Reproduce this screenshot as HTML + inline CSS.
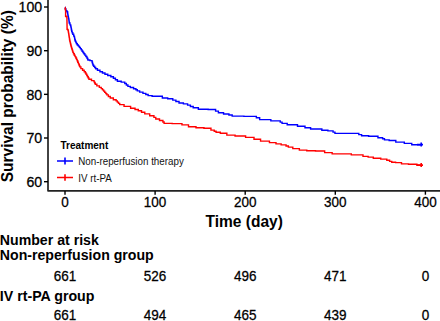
<!DOCTYPE html>
<html><head><meta charset="utf-8"><style>
html,body{margin:0;padding:0;background:#fff;width:440px;height:321px;overflow:hidden}
svg{display:block;font-family:"Liberation Sans",sans-serif}
.t{font-size:13.5px;fill:#000;stroke:#000;stroke-width:0.25px}
.ax{font-size:15.7px;font-weight:bold;fill:#000}
.lt{font-size:10px;font-weight:bold;fill:#000}
.ll{font-size:9.8px;fill:#111}
.rt{font-size:13.9px;font-weight:bold;fill:#000}
</style></head><body>
<svg width="440" height="321" viewBox="0 0 440 321"><path d="M48,0 V190.8 H440" fill="none" stroke="#222" stroke-width="1.7" stroke-linejoin="round"/><line x1="44" y1="7.0" x2="48" y2="7.0" stroke="#000" stroke-width="1.4"/><text transform="translate(42.2,12.2) scale(1.05,1.15)" text-anchor="end" class="t">100</text><line x1="44" y1="50.7" x2="48" y2="50.7" stroke="#000" stroke-width="1.4"/><text transform="translate(42.2,55.9) scale(1.05,1.15)" text-anchor="end" class="t">90</text><line x1="44" y1="94.35" x2="48" y2="94.35" stroke="#000" stroke-width="1.4"/><text transform="translate(42.2,99.5) scale(1.05,1.15)" text-anchor="end" class="t">80</text><line x1="44" y1="138.0" x2="48" y2="138.0" stroke="#000" stroke-width="1.4"/><text transform="translate(42.2,143.2) scale(1.05,1.15)" text-anchor="end" class="t">70</text><line x1="44" y1="181.7" x2="48" y2="181.7" stroke="#000" stroke-width="1.4"/><text transform="translate(42.2,186.9) scale(1.05,1.15)" text-anchor="end" class="t">60</text><line x1="65.0" y1="191" x2="65.0" y2="194.7" stroke="#000" stroke-width="1.4"/><text transform="translate(65.0,206.5) scale(1,1.15)" text-anchor="middle" class="t">0</text><line x1="155.1" y1="191" x2="155.1" y2="194.7" stroke="#000" stroke-width="1.4"/><text transform="translate(155.1,206.5) scale(1,1.15)" text-anchor="middle" class="t">100</text><line x1="245.2" y1="191" x2="245.2" y2="194.7" stroke="#000" stroke-width="1.4"/><text transform="translate(245.2,206.5) scale(1,1.15)" text-anchor="middle" class="t">200</text><line x1="335.3" y1="191" x2="335.3" y2="194.7" stroke="#000" stroke-width="1.4"/><text transform="translate(335.3,206.5) scale(1,1.15)" text-anchor="middle" class="t">300</text><line x1="425.4" y1="191" x2="425.4" y2="194.7" stroke="#000" stroke-width="1.4"/><text transform="translate(425.4,206.5) scale(1,1.15)" text-anchor="middle" class="t">400</text><text transform="translate(244.2,227.2) scale(0.99,1)" text-anchor="middle" class="ax">Time (day)</text><text transform="translate(13.4,96.2) rotate(-90) scale(0.987,1.07)" x="0" y="0" text-anchor="middle" class="ax">Survival probability (%)</text><path d="M65.0,7.5H65.30V9.05H65.90V10.60H66.20H66.85V11.80H67.50H67.60V13.27H67.80V14.73H68.00V16.20H68.10H68.40V18.10H68.70H68.78V19.33H68.92V20.55H69.08V21.77H69.22V23.00H69.30H69.95V24.90H70.60H70.72V26.16H70.96V27.42H71.20V28.68H71.44V29.94H71.68V31.20H71.80H72.12V32.75H72.77V34.30H73.10H73.70V36.10H74.30H74.42V37.40H74.65V38.70H74.88V40.00H75.00H75.30V41.23H75.90V42.47H76.50V43.70H76.80H77.32V44.93H78.35V46.17H79.38V47.40H79.90H80.34V48.66H81.22V49.92H82.10V51.18H82.98V52.44H83.86V53.70H84.30H84.82V55.13H85.85V56.57H86.88V58.00H87.40H87.58V59.00H87.92V60.00H88.10H89.95V60.60H91.80H92.02V62.07H92.45V63.53H92.88V65.00H93.10H93.62V66.23H94.65V67.47H95.68V68.70H96.20H97.45V70.25H99.95V71.80H101.20H102.45V73.05H104.95V74.30H106.20H107.75V75.55H110.85V76.80H112.40H113.40V78.27H115.40V79.73H117.40V81.20H118.40H121.20V82.10H124.00H124.78V83.53H126.35V84.97H127.92V86.40H128.70H130.32V87.55H133.57V88.70H135.20H135.90V89.80H137.30V90.90H138.00H139.65V92.15H142.95V93.40H144.60H145.78V94.50H148.12V95.60H149.30H152.10V96.20H154.90H157.70V96.20H160.50H162.35V98.00H164.20H167.70V98.70H171.20H172.77V100.13H175.90V101.57H179.03V103.00H180.60H183.40V103.90H186.20H187.60V105.17H190.40V106.43H193.20V107.70H194.60H198.35V109.30H202.10H208.15V109.50H214.20H215.60V111.10H218.40V112.70H219.80H223.55V114.00H227.30H228.93V115.05H232.18V116.10H233.80H243.90V116.40H254.00H256.35V117.80H258.70H259.65V119.60H260.60H265.25V119.60H269.90H270.85V120.90H271.80H275.55V120.90H279.30H280.23V122.15H282.07V123.40H283.00H287.20V124.70H291.40H297.50V126.20H303.60H305.00V127.70H306.40H310.60V129.00H314.80H317.40V129.00H320.00H321.85V130.20H323.70H327.90V130.90H332.10H333.05V132.15H334.95V133.40H335.90H346.65V133.40H357.40H358.80V134.60H361.60V135.80H363.00H368.60V136.20H374.20H377.95V137.70H381.70H382.62V138.80H384.47V139.90H385.40H389.15V140.50H392.90H395.80V142.10H398.70H404.30V143.40H409.90H411.75V144.70H413.60H417.35V144.70H421.10" fill="none" stroke="#0000ff" stroke-width="1.4" stroke-linejoin="miter"/><path d="M65.0,7.5H65.15V8.75H65.45V10.00H65.60H65.60V11.24H65.60V12.48H65.60V13.72H65.60V14.96H65.60V16.20H65.60H66.25V16.80H66.90H66.91V18.05H66.93V19.30H66.95V20.55H66.97V21.80H66.99V23.05H67.01V24.30H67.03V25.55H67.05V26.80H67.07V28.05H67.09V29.30H67.10H67.60V29.90H68.10H68.20V31.15H68.40V32.40H68.60V33.65H68.80V34.90H69.00V36.15H69.20V37.40H69.30H69.40V38.70H69.60V40.00H69.70H69.85V41.24H70.15V42.48H70.45V43.72H70.75V44.96H71.05V46.20H71.20H71.39V47.44H71.77V48.68H72.15V49.92H72.53V51.16H72.91V52.40H73.10H73.49V53.80H74.26V55.20H75.04V56.60H75.81V58.00H76.20H76.51V59.40H77.14V60.80H77.76V62.20H78.39V63.60H78.70H78.92V64.70H79.35V65.80H79.78V66.90H80.00H80.90V68.60H81.80H82.60V70.20H84.20V71.80H85.00H85.36V73.05H86.08V74.30H86.79V75.55H87.51V76.80H88.22V78.05H88.94V79.30H89.30H91.50V80.60H93.70H94.02V81.83H94.65V83.07H95.28V84.30H95.60H96.85V85.85H99.35V87.40H100.60H101.22V88.65H102.47V89.90H103.10H103.64V91.15H104.71V92.40H105.79V93.65H106.86V94.90H107.40H108.35V96.45H110.25V98.00H111.20H113.35V99.70H115.50H116.10V100.92H117.30V102.15H118.50V103.38H119.70V104.60H120.30H124.05V106.40H127.80H130.60V108.30H133.40H135.03V109.50H138.28V110.70H139.90H141.53V112.30H144.78V113.90H146.40H149.70V115.80H153.00H153.93V117.40H155.77V119.00H156.70H159.50V120.50H162.30H162.90V121.95H164.10V123.40H164.70H172.15V123.60H179.60H181.95V124.90H184.30H188.50V126.70H192.70H196.00V127.70H199.30H203.95V128.20H208.60H210.95V130.10H213.30H214.23V131.20H216.07V132.30H217.00H220.30V133.30H223.60H226.85V135.10H230.10H235.05V136.00H240.00H245.60V137.40H251.20H254.00V139.30H256.80H260.55V141.10H264.30H269.45V142.60H274.60H276.00V143.90H277.40H281.15V144.90H284.90H286.05V146.00H288.35V147.10H289.50H292.80V148.60H296.10H299.35V150.10H302.60H306.80V150.80H311.00H315.50V151.00H320.00H324.65V152.60H329.30H332.15V153.90H335.00H342.45V153.90H349.90H351.30V154.90H352.70H356.45V154.90H360.20H363.00V156.40H365.80H368.15V157.10H370.50H373.30V158.20H376.10H380.75V159.10H385.40H386.80V160.25H389.60V161.40H391.00H391.75V162.20H392.50H395.60V162.60H398.70H401.50V163.90H404.30H408.50V164.30H412.70H416.90V165.20H421.10" fill="none" stroke="#ff0000" stroke-width="1.4" stroke-linejoin="miter"/><path d="M417,144.6 H423 M421.2,142.6 V146.6" stroke="#0000ff" stroke-width="1.6"/><path d="M417,165.1 H423 M421.2,163.1 V167.1" stroke="#ff0000" stroke-width="1.6"/><text x="60.5" y="148.6" class="lt">Treatment</text><path d="M57,161 H73 M65,157.5 V164.5" stroke="#0000ff" stroke-width="1.6"/><text transform="translate(78.2,165) scale(1,1.14)" class="ll">Non-reperfusion therapy</text><path d="M57,177.5 H73 M65,174.3 V180.7" stroke="#ff0000" stroke-width="1.6"/><text transform="translate(78.2,182) scale(1,1.14)" class="ll">IV rt-PA</text><text transform="translate(-0.2,245) scale(1.018,1)" class="rt">Number at risk</text><text transform="translate(-0.2,260.3) scale(1.018,1)" class="rt">Non-reperfusion group</text><text transform="translate(-0.2,300.8) scale(1.022,1)" class="rt">IV rt-PA group</text><text transform="translate(65.0,280.5) scale(1,1.15)" text-anchor="middle" class="t">661</text><text transform="translate(155.1,280.5) scale(1,1.15)" text-anchor="middle" class="t">526</text><text transform="translate(245.2,280.5) scale(1,1.15)" text-anchor="middle" class="t">496</text><text transform="translate(335.3,280.5) scale(1,1.15)" text-anchor="middle" class="t">471</text><text transform="translate(425.4,280.5) scale(1,1.15)" text-anchor="middle" class="t">0</text><text transform="translate(65.0,319.5) scale(1,1.15)" text-anchor="middle" class="t">661</text><text transform="translate(155.1,319.5) scale(1,1.15)" text-anchor="middle" class="t">494</text><text transform="translate(245.2,319.5) scale(1,1.15)" text-anchor="middle" class="t">465</text><text transform="translate(335.3,319.5) scale(1,1.15)" text-anchor="middle" class="t">439</text><text transform="translate(425.4,319.5) scale(1,1.15)" text-anchor="middle" class="t">0</text></svg>
</body></html>
